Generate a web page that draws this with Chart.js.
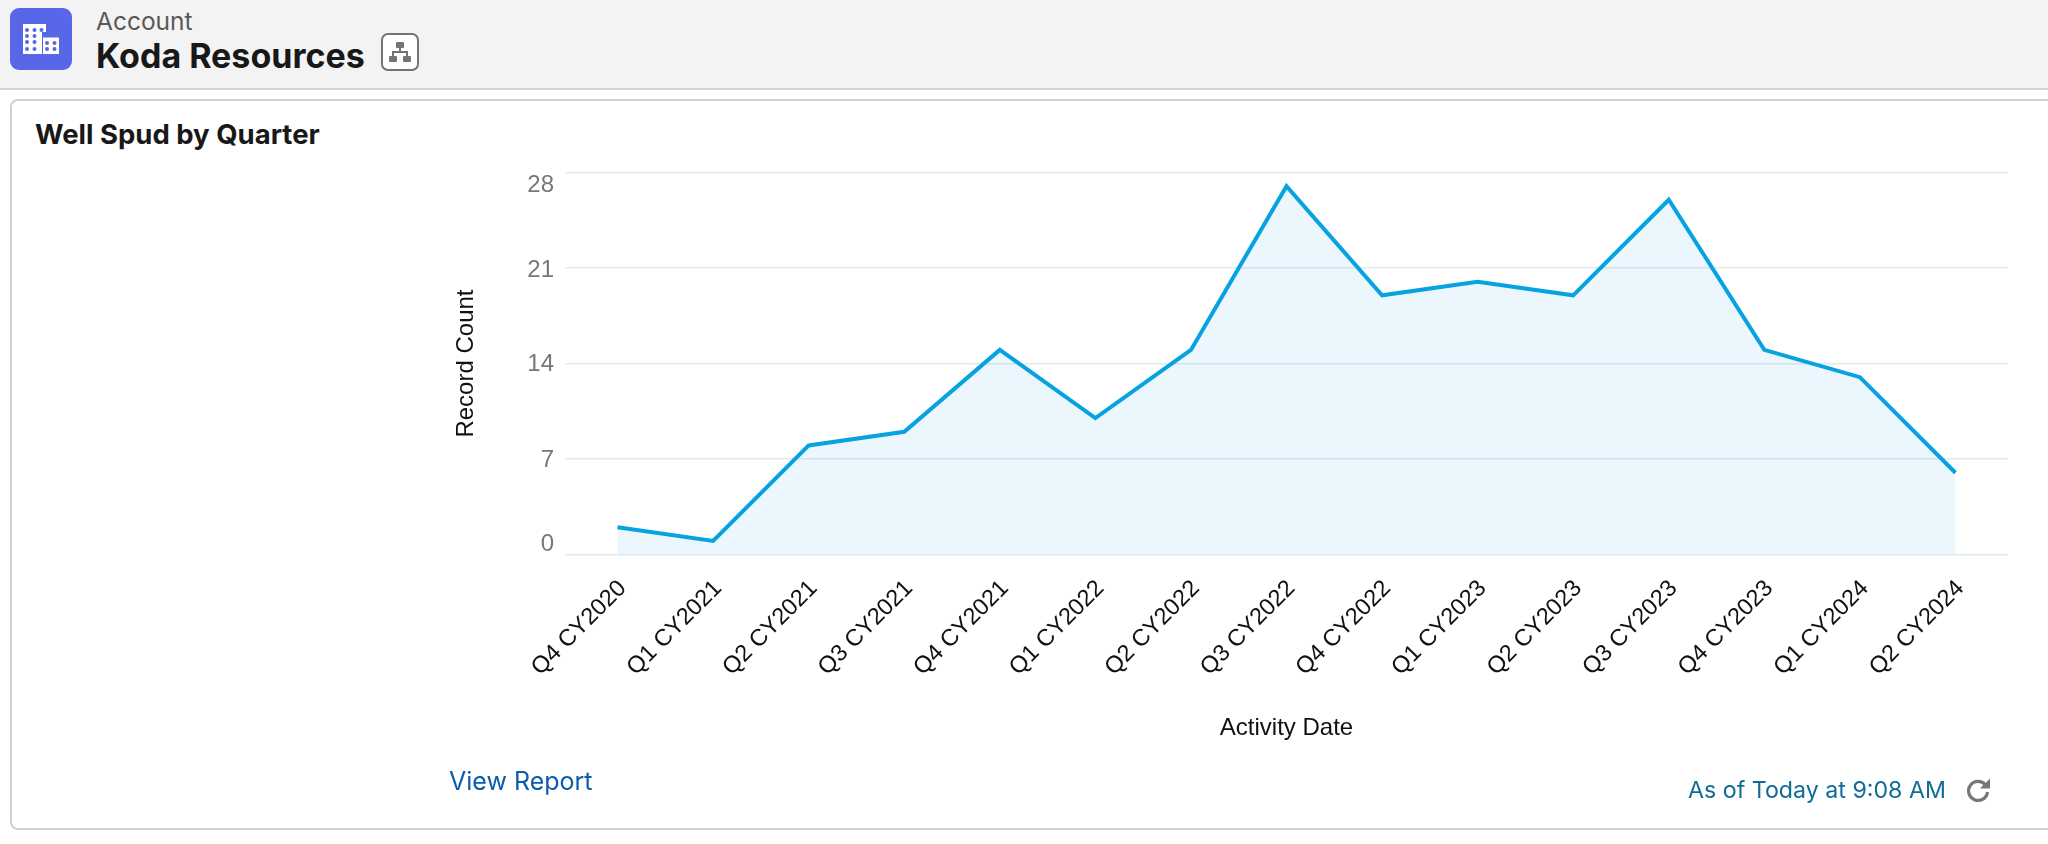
<!DOCTYPE html>
<html>
<head>
<meta charset="utf-8">
<title>Well Spud by Quarter</title>
<script src="https://cdn.jsdelivr.net/npm/chart.js@4"></script>
<style>
  html, body { margin: 0; padding: 0; background: #fff; overflow: hidden; }
  body { width: 2048px; height: 844px; position: relative; font-family: Inter, sans-serif; }
  .header { position: absolute; left: 0; top: 0; width: 2048px; height: 88px; background: #f3f3f3; border-bottom: 2px solid #d4d4d4; box-sizing: content-box; }
  .icone { position: absolute; left: 10px; top: 8px; width: 62px; height: 62px; background: #5867e8; border-radius: 9px; }
  .tipo { position: absolute; left: 96px; top: 6px; font-size: 24.5px; line-height: 30px; color: #585858; }
  .nome { position: absolute; left: 96px; top: 35px; font-size: 34px; line-height: 42px; font-weight: 700; color: #181818; }
  .botao { position: absolute; left: 381px; top: 33px; width: 38px; height: 38px; box-sizing: border-box; border: 2px solid #747474; border-radius: 7px; background: #fff; }
  .card { position: absolute; left: 10px; top: 99px; width: 2100px; height: 731px; box-sizing: border-box; border: 2px solid #d0d0d0; border-radius: 8px; background: #fff; }
  .titulo { position: absolute; left: 35px; top: 117px; font-size: 27.5px; line-height: 34px; font-weight: 700; color: #181818; }
  .relatorio { position: absolute; left: 449px; top: 765px; font-size: 25px; line-height: 32px; color: #0b5cab; }
  .data { position: absolute; left: 1688px; top: 775px; font-size: 23.2px; line-height: 30px; color: #106b96; }
  .atualizar { position: absolute; left: 1963px; top: 775px; }
  #graficoPoco { position: absolute; left: 0; top: 0; }
</style>
</head>
<body>
<div class="header">
  <div class="icone">
    <svg width="62" height="62" viewBox="0 0 62 62">
      <path d="M13 16h23v8h-4v22H13z" fill="#fff"/>
      <rect x="33" y="29.5" width="16" height="16.5" fill="#fff"/>
      <g fill="#5867e8">
        <circle cx="17" cy="22" r="2"/><circle cx="24.5" cy="22" r="2"/><circle cx="31.5" cy="22" r="2"/>
        <circle cx="17" cy="28" r="2"/><circle cx="24.5" cy="28" r="2"/>
        <circle cx="17" cy="34" r="2"/><circle cx="24.5" cy="34" r="2"/>
        <circle cx="17" cy="41" r="2"/><circle cx="24.5" cy="41" r="2"/>
        <circle cx="37" cy="35" r="2"/><circle cx="44.5" cy="35" r="2"/>
        <circle cx="37" cy="41" r="2"/><circle cx="44.5" cy="41" r="2"/>
      </g>
    </svg>
  </div>
  <div class="tipo">Account</div>
  <div class="nome">Koda Resources</div>
  <div class="botao">
    <svg width="34" height="34" viewBox="0 0 34 34">
      <g fill="#747474">
        <rect x="13" y="7" width="8" height="6" rx="1"/>
        <rect x="6" y="21" width="8" height="6" rx="1"/>
        <rect x="20" y="21" width="8" height="6" rx="1"/>
        <path d="M16 13h2v3h7v5h-2v-3H11v3H9v-5h7z"/>
      </g>
    </svg>
  </div>
</div>
<div class="card"></div>
<div class="titulo">Well Spud by Quarter</div>
<canvas id="graficoPoco" width="2048" height="844"></canvas>
<div class="relatorio">View Report</div>
<div class="data">As of Today at 9:08 AM</div>
<svg class="atualizar" width="30" height="30" viewBox="0 0 30 30">
  <path d="M22.5 10A9.5 9.5 0 1 0 24.5 17" fill="none" stroke="#777" stroke-width="3.2"/>
  <path d="M27 3.5v10h-10z" fill="#777"/>
</svg>

<script>
const trimestres = ["Q4 CY2020", "Q1 CY2021", "Q2 CY2021", "Q3 CY2021", "Q4 CY2021", "Q1 CY2022", "Q2 CY2022", "Q3 CY2022", "Q4 CY2022", "Q1 CY2023", "Q2 CY2023", "Q3 CY2023", "Q4 CY2023", "Q1 CY2024", "Q2 CY2024"];
const contagem = [2, 1, 8, 9, 15, 10, 15, 27, 19, 20, 19, 26, 15, 13, 6];
const ticksY = [0, 7, 14, 21, 28];

const fonteEixo = "'Liberation Sans', Arial, sans-serif";
const minY = ticksY[0];
const maxY = ticksY[ticksY.length - 1];

// in the original the labels 0 and 28 are pulled inside the plot
const desvioRotulosY = [0.74, -0.1, -0.08, -0.14, -0.98];

new Chart(document.getElementById("graficoPoco"), {
  type: "line",
  data: {
    datasets: [{
      data: contagem.map((v, i) => ({ x: i, y: v })),
      borderColor: "#06a3e0",
      borderWidth: 4,
      backgroundColor: "rgba(0,140,225,0.078)",
      fill: "origin",
      tension: 0,
      pointRadius: 0,
      borderJoinStyle: "miter",
      yAxisID: "y"
    }]
  },
  options: {
    responsive: false,
    animation: false,
    layout: { padding: { left: 452, right: 40, top: 172.5, bottom: 101 } },
    plugins: { legend: { display: false }, tooltip: { enabled: false } },
    scales: {
      x: {
        type: "linear",
        min: -0.55,
        max: 14.55,
        grid: { display: false },
        border: { display: false },
        ticks: {
          stepSize: 1,
          includeBounds: false,
          autoSkip: false,
          minRotation: 45,
          maxRotation: 45,
          padding: 12,
          labelOffset: 5,
          color: "#111",
          font: { family: fonteEixo, size: 23.5 },
          callback: v => trimestres[v]
        },
        title: {
          display: true,
          text: "Activity Date",
          color: "#111",
          font: { family: fonteEixo, size: 24 },
          padding: { top: 0, bottom: 0 }
        },
        afterFit: s => { s.height = 188.4; }
      },
      // grid only
      y: {
        min: minY,
        max: maxY,
        weight: 0,
        grid: { color: "#e3eaef", lineWidth: 1.6, drawTicks: false },
        border: { display: false },
        ticks: { display: false, stepSize: 7 },
        afterFit: s => { s.width = 0; }
      },
      // labels and title
      yRotulos: {
        position: "left",
        weight: 1,
        min: minY,
        max: maxY,
        grid: { display: false, drawTicks: false },
        border: { display: false },
        afterBuildTicks: s => {
          s.ticks = ticksY.map((v, i) => ({ value: v + desvioRotulosY[i] }));
        },
        ticks: {
          autoSkip: false,
          padding: 11,
          color: "#777",
          font: { family: fonteEixo, size: 24 },
          callback: (v, i) => ticksY[i]
        },
        title: {
          display: true,
          text: "Record Count",
          color: "#111",
          font: { family: fonteEixo, size: 24 },
          padding: { top: 0, bottom: 0 }
        },
        afterFit: s => { s.width = 113; }
      }
    }
  }
});
</script>
</body>
</html>
